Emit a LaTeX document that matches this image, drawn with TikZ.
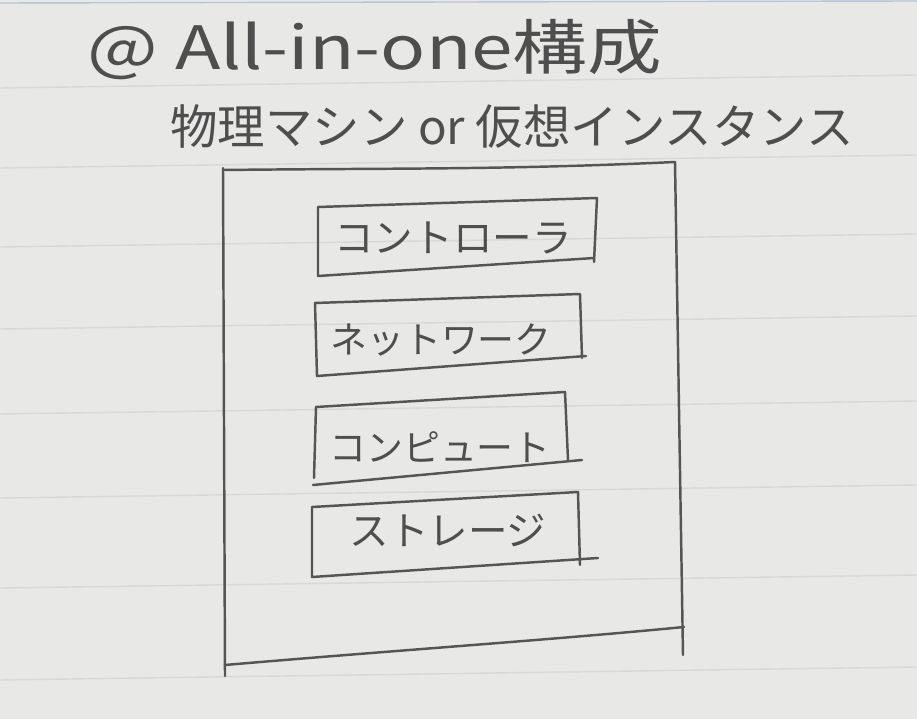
\documentclass[tikz,border=0pt]{standalone}
\usepackage{fontspec}
\newfontfamily\hand{Noto Sans CJK JP}
\definecolor{paperbg}{HTML}{E8E8E6}
\definecolor{ruled}{HTML}{D8D8D6}
\definecolor{bluerule}{HTML}{B8C4DC}
\definecolor{pencil}{HTML}{555555}
\definecolor{ink}{HTML}{4E4E4E}
\tikzset{
  pencil/.style={draw=pencil, line width=1.4pt, line join=round, line cap=round},
  rule/.style={draw=ruled, line width=0.8pt},
  boxlabel/.style={font=\hand\fontsize{21}{24}\selectfont, text=ink, inner sep=0pt},
  biglabel/.style={boxlabel, font=\hand\fontsize{22.5}{26}\selectfont},
  titlelabel/.style={font=\hand\fontsize{34}{38}\selectfont, text=ink, inner sep=0pt},
  sublabel/.style={font=\hand\fontsize{27}{30}\selectfont, text=ink, inner sep=0pt}
}
\begin{document}
\begin{tikzpicture}[x=0.02cm, y=-0.02cm]
\useasboundingbox (0,0) rectangle (917,719);
\fill[paperbg] (0,0) rectangle (917,719);
% ruled paper lines
\draw[bluerule, line width=0.8pt] (0,3) -- (917,1);
\foreach \yy in {88,168,247,329,414,498,588,680}
  \draw[rule] (0,\yy) -- (917,\yy-13);

% title and subtitle
\node[titlelabel] (title) at (375,50) {\scalebox{1.25}[1]{@ All-in-one構成}};
\node[sublabel] (sub) at (512,127) {物理マシン or 仮想インスタンス};

% outer box (physical machine / virtual instance)
\coordinate (otl) at (223,168);
\coordinate (otr) at (675,162);
\coordinate (obr) at (683,655);
\coordinate (obl) at (225,676);
\draw[pencil] (otl) -- (obl);
\draw[pencil] (223,170) .. controls (400,168) and (500,170) .. (otr);
\draw[pencil] (otr) -- (obr);
\draw[pencil] (225,665) .. controls (400,650) and (550,640) .. (684,627);

% controller
\coordinate (c1) at (318,207); \coordinate (c2) at (597,198);
\coordinate (c3) at (594,262); \coordinate (c4) at (318,276);
\draw[pencil] (c1) -- (c2) -- (c3);
\draw[pencil] (c1) -- (c4) -- (594,258);
\node[biglabel] (ctrl) at (453,238) {コントローラ};

% network
\coordinate (n1) at (315,303); \coordinate (n2) at (580,294);
\coordinate (n3) at (582,358); \coordinate (n4) at (317,376);
\draw[pencil] (n1) -- (n2) -- (n3);
\draw[pencil] (n1) -- (n4) -- (586,356);
\node[boxlabel] (net) at (441,340) {ネットワーク};

% compute
\coordinate (p1) at (316,407); \coordinate (p2) at (565,392);
\coordinate (p3) at (568,460); \coordinate (p4) at (314,478);
\draw[pencil] (p1) -- (p2) -- (p3);
\draw[pencil] (p1) -- (p4);
\draw[pencil] (313,485) -- (582,460);
\node[boxlabel] (comp) at (440,447) {コンピュート};

% storage
\coordinate (s1) at (312,507); \coordinate (s2) at (578,492);
\coordinate (s3) at (580,565); \coordinate (s4) at (312,577);
\draw[pencil] (s1) -- (s2) -- (s3);
\draw[pencil] (s1) -- (s4) -- (598,558);
\node[biglabel] (stor) at (448,530) {ストレージ};
\end{tikzpicture}
\end{document}
